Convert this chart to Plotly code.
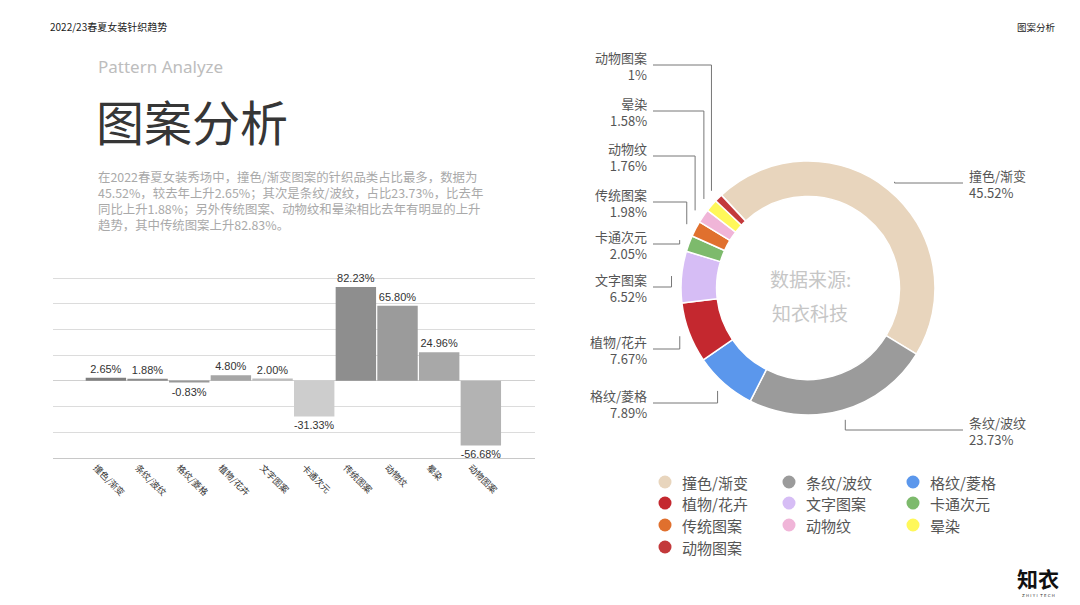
import math
import plotly.graph_objects as go

# ---------------- data ----------------
bar_categories = ['撞色/渐变', '条纹/波纹', '格纹/菱格', '植物/花卉', '文字图案',
                  '卡通次元', '传统图案', '动物纹', '晕染', '动物图案']
bar_change = [2.65, 1.88, -0.83, 4.80, 2.00, -31.33, 82.23, 65.80, 24.96, -56.68]

pie_labels = ['撞色/渐变', '条纹/波纹', '格纹/菱格', '植物/花卉', '文字图案',
              '卡通次元', '传统图案', '动物纹', '晕染', '动物图案']
pie_share = [45.52, 23.73, 7.89, 7.67, 6.52, 2.05, 1.98, 1.76, 1.58, 1]

paragraph_lines = [
    '在2022春夏女装秀场中，撞色/渐变图案的针织品类占比最多，数据为',
    '45.52%，较去年上升2.65%；其次是条纹/波纹，占比23.73%，比去年',
    '同比上升1.88%；另外传统图案、动物纹和晕染相比去年有明显的上升',
    '趋势，其中传统图案上升82.83%。',
]

# ---------------- styles ----------------
bar_colors = ['#7f7f7f', '#8c8c8c', '#999999', '#a6a6a6', '#bdbdbd',
              '#cdcdcd', '#8e8e8e', '#9b9b9b', '#a8a8a8', '#b3b3b3']
pie_colors = ['#e8d5bd', '#9b9b9b', '#5b97ec', '#c4282f', '#d6bdf5',
              '#7dba6c', '#e0702e', '#f0b5d8', '#fff85a', '#c3393b']

W, H = 1080, 605
FONT = 'Noto Sans CJK SC, Noto Sans, sans-serif'


def px(x):
    return x / W


def py(y):
    return 1 - y / H


fig = go.Figure()

# ---------------- bar chart ----------------
fig.add_trace(go.Bar(
    x=bar_categories, y=bar_change,
    marker=dict(color=bar_colors, line=dict(width=0)),
    texttemplate='%{y:.2f}%', textposition='outside',
    textfont=dict(size=11, color='#333333', family='Liberation Sans, Arial, sans-serif'),
    cliponaxis=False, showlegend=False, hoverinfo='skip',
    xaxis='x', yaxis='y',
))

# ---------------- donut ----------------
cx, cy, R = 808, 288, 127
rotation = -43
fig.add_trace(go.Pie(
    labels=pie_labels, values=pie_share, sort=False, direction='clockwise',
    rotation=rotation, hole=0.72,
    marker=dict(colors=pie_colors, line=dict(color='white', width=1.5)),
    textinfo='none', hoverinfo='label+percent', showlegend=False,
    domain=dict(x=[px(cx - R), px(cx + R)], y=[py(cy + R), py(cy - R)]),
))

annotations = []
shapes = []

# leader labels for the donut (label column positions are layout)
label_side = ['right', 'right', 'left', 'left', 'left', 'left', 'left', 'left', 'left', 'left']
label_line_y = [183, 430, 403, 349, 287, 244, 202, 156, 111, 65]
total = sum(pie_share)
cum = 0
for i, v in enumerate(pie_share):
    mid = rotation + (cum + v / 2) / total * 360
    cum += v
    rr = R + 10
    ex = cx + rr * math.sin(math.radians(mid))
    ey = cy - rr * math.cos(math.radians(mid))
    ly = label_line_y[i]
    txt = f'{pie_labels[i]}<br>{v:g}%'
    if label_side[i] == 'left':
        sx = 653
        annotations.append(dict(x=px(649), y=py(ly + 1), xref='paper', yref='paper',
                                text=txt, showarrow=False, xanchor='right', yanchor='middle',
                                align='right', font=dict(size=13, color='#555555', family=FONT)))
    else:
        sx = 963
        annotations.append(dict(x=px(967), y=py(ly + 1), xref='paper', yref='paper',
                                text=txt, showarrow=False, xanchor='left', yanchor='middle',
                                align='left', font=dict(size=13, color='#555555', family=FONT)))
    path = f'M {px(sx)} {py(ly)} L {px(ex)} {py(ly)} L {px(ex)} {py(ey)}'
    shapes.append(dict(type='path', path=path, xref='paper', yref='paper',
                       line=dict(color='#777777', width=1)))

# center text
annotations.append(dict(x=px(cx + 2), y=py(278), xref='paper', yref='paper', text='数据来源:',
                        showarrow=False, xanchor='center', yanchor='middle',
                        font=dict(size=19, color='#c6c6c6', family=FONT)))
annotations.append(dict(x=px(cx + 2), y=py(312), xref='paper', yref='paper', text='知衣科技',
                        showarrow=False, xanchor='center', yanchor='middle',
                        font=dict(size=19, color='#c6c6c6', family=FONT)))

# custom legend
leg_circle_x = [665, 789, 913]
leg_text_x = [680, 804, 928]
leg_row_y = [482, 503, 525, 547]
for i, lab in enumerate(pie_labels):
    c, r = i % 3, i // 3
    x0, y0 = leg_circle_x[c], leg_row_y[r]
    shapes.append(dict(type='circle', xref='paper', yref='paper',
                       x0=px(x0 - 6.5), x1=px(x0 + 6.5), y0=py(y0 + 6.5), y1=py(y0 - 6.5),
                       fillcolor=pie_colors[i], line=dict(width=0)))
    annotations.append(dict(x=px(leg_text_x[c]), y=py(y0), xref='paper', yref='paper',
                            text=lab, showarrow=False, xanchor='left', yanchor='middle',
                            font=dict(size=15, color='#555555', family=FONT)))

# header / titles
annotations += [
    dict(x=px(48), y=py(27), xref='paper', yref='paper', text='2022/23春夏女装针织趋势',
         showarrow=False, xanchor='left', yanchor='middle',
         font=dict(size=10, color='#222222', family=FONT)),
    dict(x=px(1058), y=py(27), xref='paper', yref='paper', text='图案分析',
         showarrow=False, xanchor='right', yanchor='middle',
         font=dict(size=9.5, color='#222222', family=FONT)),
    dict(x=px(96), y=py(67), xref='paper', yref='paper', text='Pattern Analyze',
         showarrow=False, xanchor='left', yanchor='middle',
         font=dict(size=17, color='#bdbdbd', family='Noto Sans, sans-serif')),
    dict(x=px(94), y=py(120), xref='paper', yref='paper', text='图案分析',
         showarrow=False, xanchor='left', yanchor='middle',
         font=dict(size=48, color='#363636', family=FONT)),
    dict(x=px(1038), y=py(578), xref='paper', yref='paper', text='<b>知衣</b>',
         showarrow=False, xanchor='center', yanchor='middle',
         font=dict(size=21, color='#111111', family=FONT)),
    dict(x=px(1038), y=py(595), xref='paper', yref='paper', text='Z H I Y I  T E C H',
         showarrow=False, xanchor='center', yanchor='middle',
         font=dict(size=4, color='#333333', family='DejaVu Sans')),
    dict(x=px(96), y=py(166), xref='paper', yref='paper', text='<br>'.join(paragraph_lines),
         showarrow=False, xanchor='left', yanchor='top', align='left',
         font=dict(size=12.4, color='#a9a9a9', family=FONT)),
]

fig.update_layout(
    width=W, height=H, margin=dict(l=0, r=0, t=0, b=0),
    paper_bgcolor='white', plot_bgcolor='white',
    bargap=0.03,
    xaxis=dict(domain=[px(53), px(535)], range=[-1.27, 10.3], type='category',
               tickangle=45, tickfont=dict(size=9, color='#333333', family=FONT),
               ticklabelshift=-10,
               showline=True, linecolor='#c8c8c8', linewidth=1, ticks='',
               showgrid=False, fixedrange=True),
    yaxis=dict(domain=[py(458), py(274.6)], range=[-67.6, 93], dtick=22.5, tick0=0,
               showticklabels=False, showgrid=True, gridcolor='#dcdcdc', gridwidth=1,
               zeroline=True, zerolinecolor='#d0d0d0', zerolinewidth=1,
               showline=False, fixedrange=True),
    annotations=annotations, shapes=shapes,
    font=dict(family=FONT),
)

fig.write_html('out.html')
